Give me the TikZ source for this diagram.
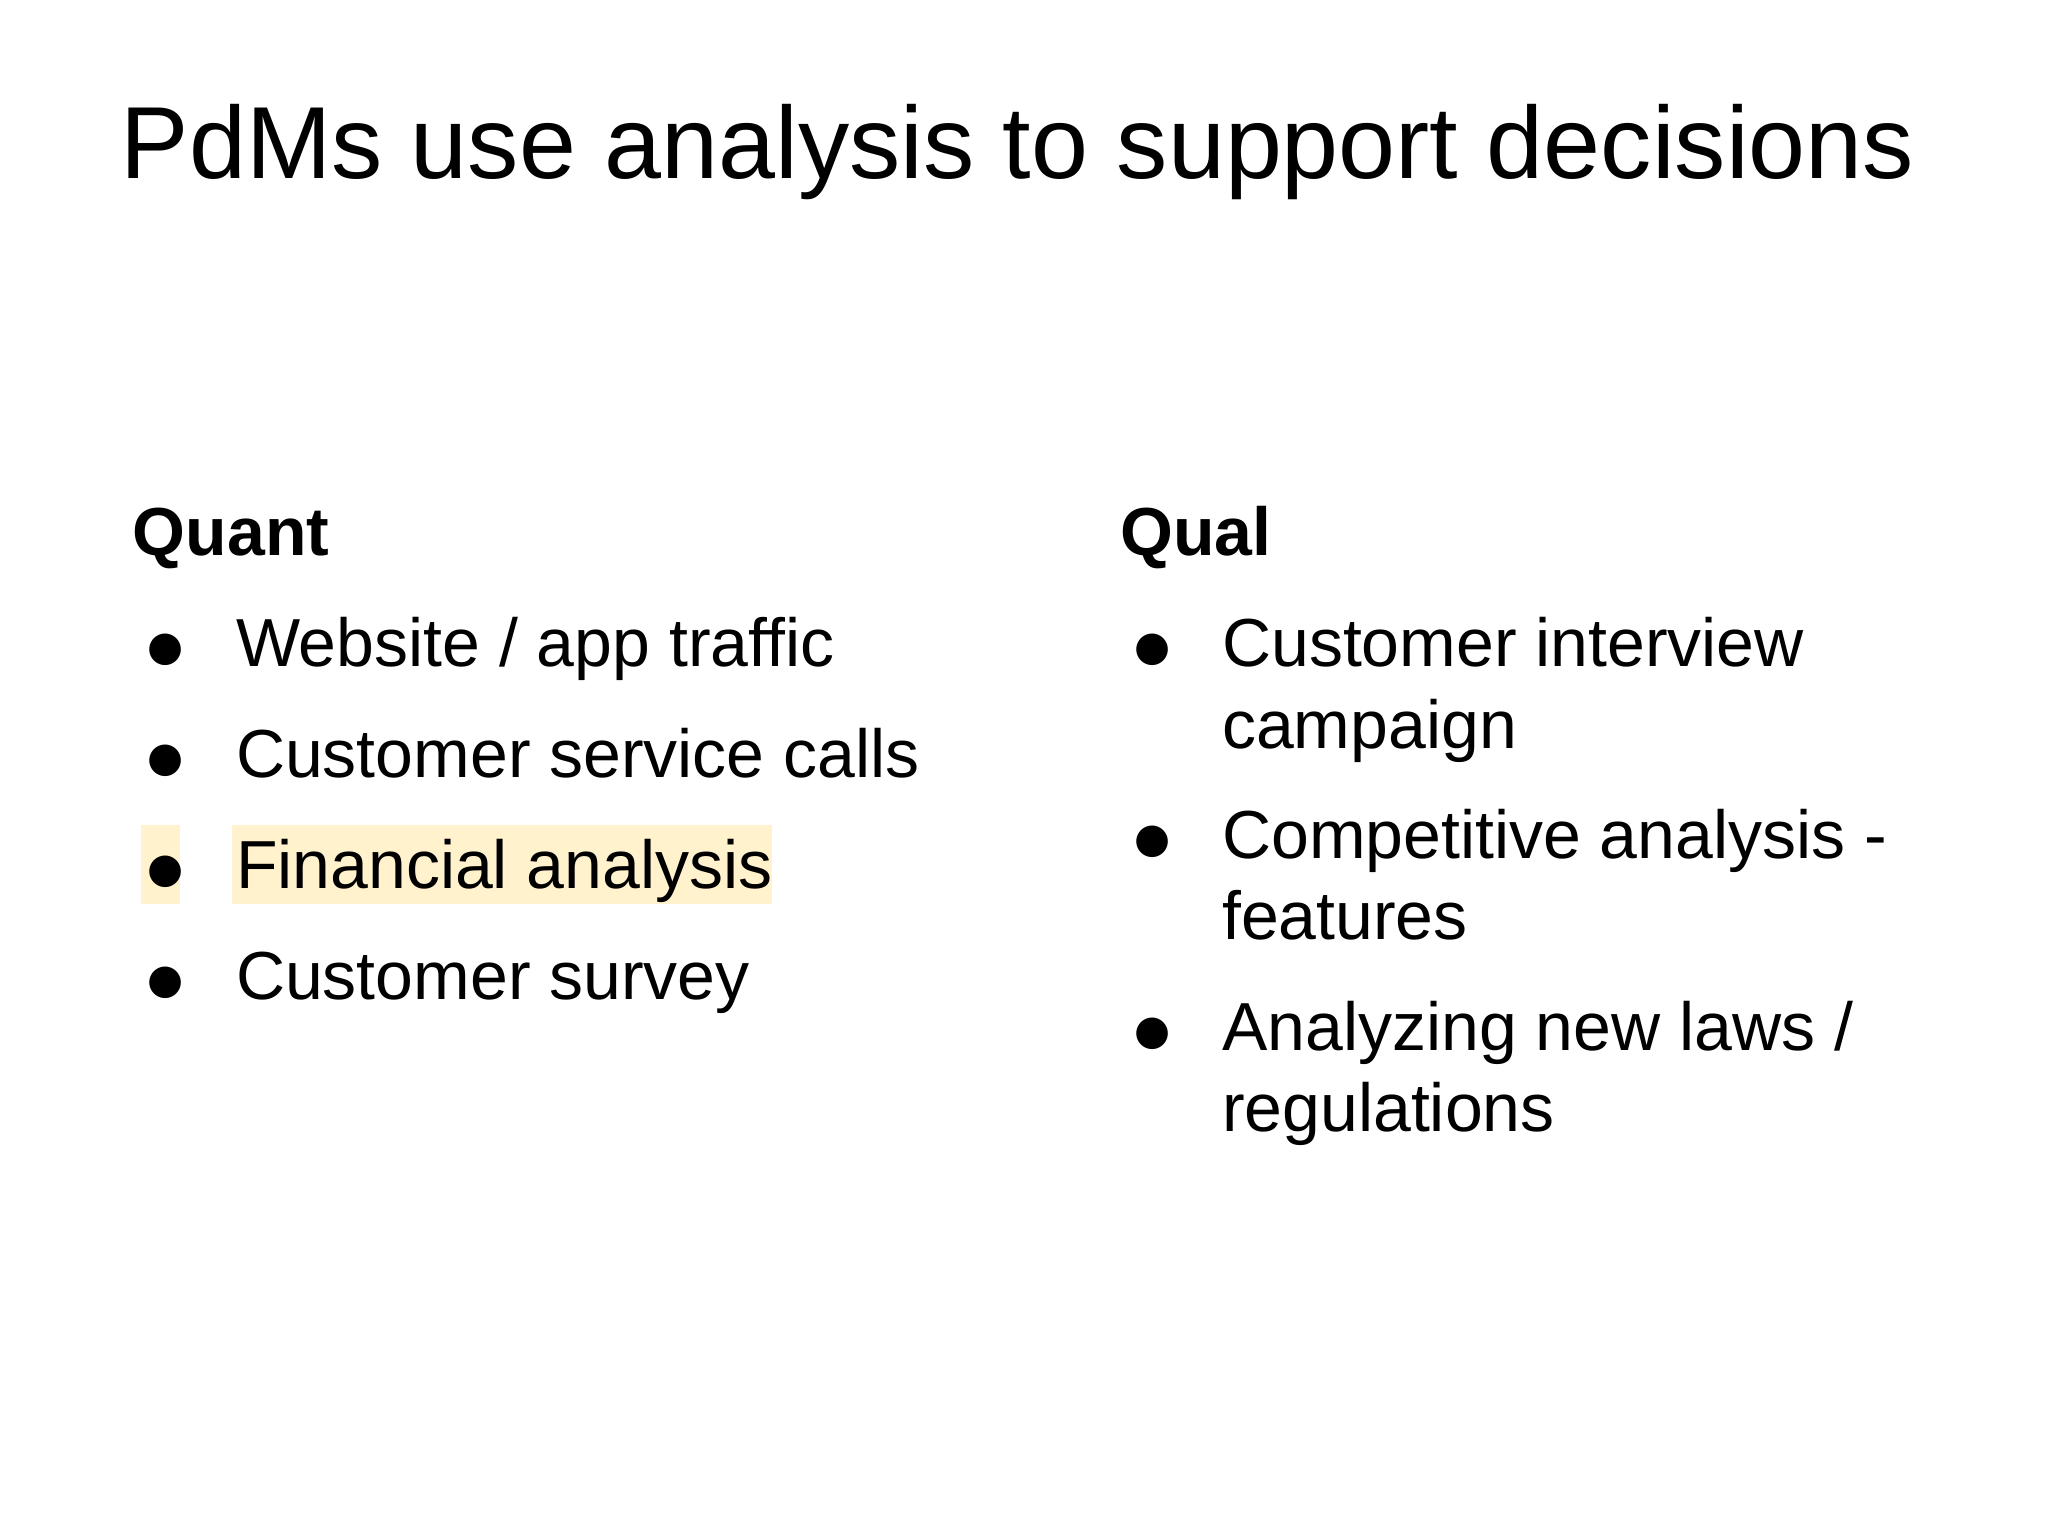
\documentclass[tikz,border=0pt]{standalone}
\usepackage{fontspec}
\setmainfont{Liberation Sans}
\newfontfamily\symfont{DejaVu Sans}
\definecolor{hilite}{HTML}{FFF2CC}
\begin{document}
\begin{tikzpicture}[x=0.01cm,y=-0.01cm,
  every node/.style={inner sep=0pt,anchor=base west},
  itemtext/.style={font=\fontsize{14.8pt}{18pt}\selectfont},
  headtext/.style={font=\fontsize{14.8pt}{18pt}\selectfont\bfseries},
  dot/.style={font=\fontsize{9pt}{11pt}\symfont}]
\useasboundingbox (0,0) rectangle (1568,1176);
% highlight behind the third item
\fill[hilite] (108,632) rectangle (138,692);
\fill[hilite] (178,632) rectangle (591,692);
\node[anchor=base,font=\fontsize{22.3pt}{26pt}\selectfont] (title) at (779,137) {PdMs use analysis to support decisions};
% left column
\node[headtext] (quant) at (101,425) {Quant};
\foreach \y/\t [count=\i] in {510/{Website / app traffic},595/Customer service calls,680/Financial analysis,765/Customer survey}{
  \node[dot] (qb\i) at (112,\y-4) {●};
  \node[itemtext] (qt\i) at (180,\y) {\t};
}
% right column
\node[headtext] (qual) at (857,425) {Qual};
\foreach \y/\t [count=\i] in {510/Customer interview,657/Competitive analysis -,804/{Analyzing new laws /}}{
  \node[dot] (lb\i) at (868,\y-4) {●};
  \node[itemtext] (lt\i) at (935,\y) {\t};
}
\node[itemtext] (lc1) at (935,573) {campaign};
\node[itemtext] (lc2) at (935,719) {features};
\node[itemtext] (lc3) at (935,866) {regulations};
\end{tikzpicture}
\end{document}
